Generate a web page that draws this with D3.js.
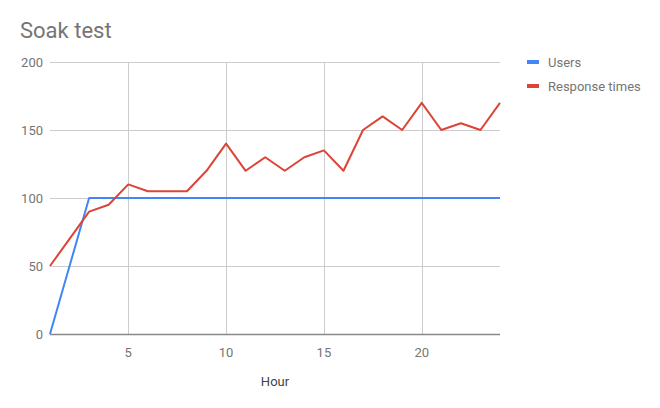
<!DOCTYPE html>
<html>
<head>
<meta charset="utf-8">
<script src="https://cdnjs.cloudflare.com/ajax/libs/d3/7.8.5/d3.min.js"></script>
<style>
  body { margin: 0; background: #fff; }
  svg { font-family: Roboto, Arial, sans-serif; }
</style>
</head>
<body>
<svg width="660" height="408"></svg>
<script>
var hours = d3.range(1, 25);
var users = [0, 50, 100, 100, 100, 100, 100, 100, 100, 100, 100, 100,
             100, 100, 100, 100, 100, 100, 100, 100, 100, 100, 100, 100];
var responseTimes = [50, 70, 90, 95, 110, 105, 105, 105, 120, 140, 120, 130,
                     120, 130, 135, 120, 150, 160, 150, 170, 150, 155, 150, 170];
var xTicks = [5, 10, 15, 20];
var yTicks = [0, 50, 100, 150, 200];
var seriesNames = ["Users", "Response times"];

var svg = d3.select("svg"),
    margin = {top: 62, right: 160, bottom: 74, left: 50},
    width = +svg.attr("width") - margin.left - margin.right,
    height = +svg.attr("height") - margin.top - margin.bottom,
    g = svg.append("g").attr("transform", "translate(" + margin.left + "," + margin.top + ")");

var x = d3.scaleLinear().domain([1, 24]).range([0, width]);
var y = d3.scaleLinear().domain([0, 200]).range([height, 0]);
var z = d3.scaleOrdinal().domain(seriesNames).range(["#4285f4", "#db4437"]);

// title
svg.append("text")
    .attr("x", 20)
    .attr("y", 38)
    .attr("font-size", 22)
    .attr("fill", "#757575")
    .text("Soak test");

// horizontal gridlines + labels
g.append("g")
  .selectAll("line")
  .data(yTicks)
  .enter().append("line")
    .attr("x1", 0).attr("x2", width)
    .attr("y1", function(d) { return y(d) + 0.5; })
    .attr("y2", function(d) { return y(d) + 0.5; })
    .attr("stroke", "#cccccc");

g.append("g")
  .selectAll("text")
  .data(yTicks)
  .enter().append("text")
    .attr("x", -7)
    .attr("y", function(d) { return y(d); })
    .attr("dy", "0.35em")
    .attr("text-anchor", "end")
    .attr("font-size", 13)
    .attr("fill", "#757575")
    .text(function(d) { return d; });

// vertical gridlines + labels
g.append("g")
  .selectAll("line")
  .data(xTicks)
  .enter().append("line")
    .attr("x1", function(d) { return Math.round(x(d)) + 0.5; })
    .attr("x2", function(d) { return Math.round(x(d)) + 0.5; })
    .attr("y1", 0).attr("y2", height)
    .attr("stroke", "#cccccc");

g.append("g")
  .selectAll("text")
  .data(xTicks)
  .enter().append("text")
    .attr("x", function(d) { return x(d); })
    .attr("y", height + 23)
    .attr("text-anchor", "middle")
    .attr("font-size", 13)
    .attr("fill", "#757575")
    .text(function(d) { return d; });

// baseline
g.append("line")
    .attr("x1", 0).attr("x2", width)
    .attr("y1", height + 0.5).attr("y2", height + 0.5)
    .attr("stroke", "#888888")
    .attr("stroke-width", 1.5);

// axis title
g.append("text")
    .attr("x", width / 2)
    .attr("y", height + 52)
    .attr("text-anchor", "middle")
    .attr("font-size", 13)
    .attr("fill", "#444444")
    .text("Hour");

var line = d3.line()
    .x(function(d) { return x(d[0]); })
    .y(function(d) { return y(d[1]); });

var data = [
  {name: "Users", values: d3.zip(hours, users)},
  {name: "Response times", values: d3.zip(hours, responseTimes)}
];

g.append("g")
  .selectAll("path")
  .data(data)
  .enter().append("path")
    .attr("fill", "none")
    .attr("stroke", function(d) { return z(d.name); })
    .attr("stroke-width", 2)
    .attr("stroke-linejoin", "round")
    .attr("d", function(d) { return line(d.values); });

// legend
var legend = svg.append("g")
  .selectAll("g")
  .data(seriesNames)
  .enter().append("g")
    .attr("transform", function(d, i) { return "translate(527," + (62 + i * 24) + ")"; });

legend.append("rect")
    .attr("x", 0)
    .attr("y", -2)
    .attr("width", 12)
    .attr("height", 4)
    .attr("fill", z);

legend.append("text")
    .attr("x", 21)
    .attr("dy", "0.35em")
    .attr("font-size", 13)
    .attr("fill", "#757575")
    .text(function(d) { return d; });
</script>
</body>
</html>
